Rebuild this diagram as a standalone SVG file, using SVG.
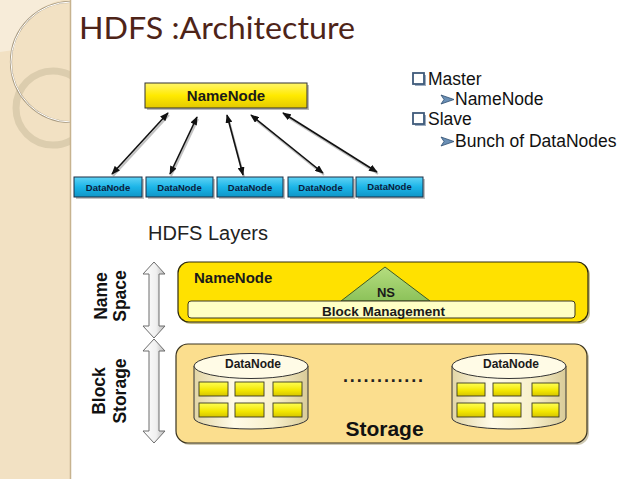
<svg xmlns="http://www.w3.org/2000/svg" width="638" height="479" viewBox="0 0 638 479">
<defs>
<style>
.sans{font-family:"Liberation Sans",Arial,sans-serif}
.b{font-weight:bold}
.dnt{font-family:"Liberation Sans",Arial,sans-serif;font-weight:bold;font-size:9.5px;fill:#0b1d3d;text-anchor:middle}
.dnb{fill:url(#gC);stroke:#1d2f45;stroke-width:1}
.conn{stroke:#111;stroke-width:1.6;fill:none;marker-start:url(#ah);marker-end:url(#ah)}
.shad{stroke:#9a9a9a;stroke-width:2;fill:none;opacity:.6}
.blk{fill:url(#gB);stroke:#3a3a20;stroke-width:0.9}
.list{font-family:"Liberation Sans",Arial,sans-serif;font-size:17.5px;fill:#111}
.va{fill:url(#gV);stroke:#6d6d6d;stroke-width:1}
.lbl{font-family:"Liberation Sans",Arial,sans-serif;font-weight:bold;font-size:17.5px;fill:#111}
</style>
<linearGradient id="gY" x1="0" y1="0" x2="0" y2="1"><stop offset="0" stop-color="#fff56a"/><stop offset="0.5" stop-color="#ffea00"/><stop offset="1" stop-color="#e3c900"/></linearGradient>
<linearGradient id="gC" x1="0" y1="0" x2="0" y2="1"><stop offset="0" stop-color="#5fd3f5"/><stop offset="0.5" stop-color="#1cb5e8"/><stop offset="1" stop-color="#0f95c6"/></linearGradient>
<linearGradient id="gB" x1="0" y1="0" x2="0" y2="1"><stop offset="0" stop-color="#ffff55"/><stop offset="0.6" stop-color="#f2e600"/><stop offset="1" stop-color="#d6c400"/></linearGradient>
<linearGradient id="gCyl" x1="0" y1="0" x2="1" y2="0"><stop offset="0" stop-color="#e3d6a6"/><stop offset="0.35" stop-color="#fffbe8"/><stop offset="0.7" stop-color="#f8f0cc"/><stop offset="1" stop-color="#d9cb98"/></linearGradient>
<linearGradient id="gV" x1="0" y1="0" x2="1" y2="0"><stop offset="0" stop-color="#ffffff"/><stop offset="0.6" stop-color="#f0f0f0"/><stop offset="1" stop-color="#b8b8b8"/></linearGradient>
<linearGradient id="gNS" x1="0" y1="0" x2="0" y2="1"><stop offset="0" stop-color="#b5dd7f"/><stop offset="1" stop-color="#8cc25a"/></linearGradient>
<marker id="ah" viewBox="0 0 10 8" refX="9" refY="4" markerWidth="9" markerHeight="7" markerUnits="userSpaceOnUse" orient="auto-start-reverse"><path d="M0,0 L10,4 L0,8 Z" fill="#111"/></marker>
<clipPath id="sb"><rect x="0" y="0" width="70" height="479"/></clipPath>
</defs>

<rect x="0" y="0" width="638" height="479" fill="#ffffff"/>

<!-- sidebar decoration -->
<g id="sidebar">
<rect x="0" y="0" width="70" height="479" fill="#f2e1c3"/>
<g clip-path="url(#sb)">
<path d="M0,0 H62 A60,60 0 0 0 14,50 L0,52 Z" fill="#f7ecd9"/>
<circle cx="53" cy="108" r="37" fill="none" stroke="#dccdae" stroke-width="7"/>
<circle cx="71" cy="62" r="60" fill="none" stroke="#a89a80" stroke-width="2.2"/>
<circle cx="71" cy="62" r="60" fill="none" stroke="#ffffff" stroke-width="1"/>
</g>
<line x1="70.5" y1="0" x2="70.5" y2="479" stroke="#c7b38f" stroke-width="1.5"/>
</g>

<text x="79" y="39" font-family="Lato,'Open Sans',sans-serif" font-size="31" fill="#4e2418" textLength="276" lengthAdjust="spacingAndGlyphs">HDFS :Architecture</text>

<!-- connectors -->
<g id="connectors">
<line class="shad" x1="169" y1="115" x2="113" y2="176"/>
<line class="shad" x1="198" y1="119" x2="171" y2="176"/>
<line class="shad" x1="228" y1="117" x2="244" y2="177"/>
<line class="shad" x1="252" y1="117" x2="324" y2="175"/>
<line class="shad" x1="284" y1="115" x2="378" y2="174"/>
<line class="conn" x1="168" y1="113" x2="112" y2="174"/>
<line class="conn" x1="197" y1="117" x2="170" y2="174"/>
<line class="conn" x1="227" y1="115" x2="243" y2="175"/>
<line class="conn" x1="251" y1="115" x2="323" y2="173"/>
<line class="conn" x1="283" y1="113" x2="377" y2="172"/>
</g>

<g id="namenode-top">
<rect x="147" y="85" width="162" height="25" fill="#777" opacity="0.5"/>
<rect x="145" y="83" width="162" height="25" fill="url(#gY)" stroke="#333" stroke-width="1"/>
<text x="226" y="101" class="sans b" font-size="15" fill="#1a1a1a" text-anchor="middle">NameNode</text>
</g>

<g id="datanode-1"><rect x="76" y="179" width="68" height="20" fill="#666" opacity="0.4"/><rect class="dnb" x="74" y="177" width="68" height="20"/><text class="dnt" x="108" y="191">DataNode</text></g>
<g id="datanode-2"><rect x="148" y="179" width="67" height="20" fill="#666" opacity="0.4"/><rect class="dnb" x="146" y="177" width="67" height="20"/><text class="dnt" x="179.5" y="191">DataNode</text></g>
<g id="datanode-3"><rect x="219" y="179" width="66" height="20" fill="#666" opacity="0.4"/><rect class="dnb" x="217" y="177" width="66" height="20"/><text class="dnt" x="250" y="191">DataNode</text></g>
<g id="datanode-4"><rect x="290" y="179" width="65" height="20" fill="#666" opacity="0.4"/><rect class="dnb" x="288" y="177" width="65" height="20"/><text class="dnt" x="320.5" y="191">DataNode</text></g>
<g id="datanode-5"><rect x="358" y="179" width="67" height="20" fill="#666" opacity="0.4"/><rect class="dnb" x="356" y="177" width="67" height="20"/><text class="dnt" x="389.5" y="190">DataNode</text></g>

<!-- bullet list -->
<g id="legend">
<rect x="415" y="75" width="11" height="11" fill="#5c7796" opacity="0.6"/>
<rect x="413" y="73" width="11" height="11" fill="#ffffff" stroke="#3f5a7a" stroke-width="1.8"/>
<text class="list" x="428" y="85">Master</text>
<path d="M441,95 L454,99.5 L441,104 L444,99.5 Z" fill="#6a8fb5" stroke="#2f4e70" stroke-width="0.8"/>
<text class="list" x="455" y="105">NameNode</text>
<rect x="415" y="115" width="11" height="11" fill="#5c7796" opacity="0.6"/>
<rect x="413" y="113" width="11" height="11" fill="#ffffff" stroke="#3f5a7a" stroke-width="1.8"/>
<text class="list" x="428" y="125">Slave</text>
<path d="M441,137 L454,141.5 L441,146 L444,141.5 Z" fill="#6a8fb5" stroke="#2f4e70" stroke-width="0.8"/>
<text class="list" x="455" y="147">Bunch of DataNodes</text>
</g>

<text x="148" y="240" class="sans" font-size="20" fill="#222">HDFS Layers</text>

<!-- side labels and arrows -->
<g id="label-namespace">
<text class="lbl" transform="translate(107,296) rotate(-90)" text-anchor="middle">Name</text>
<text class="lbl" transform="translate(126,296) rotate(-90)" text-anchor="middle">Space</text>
</g>
<g id="label-blockstorage">
<text class="lbl" transform="translate(105,391) rotate(-90)" text-anchor="middle">Block</text>
<text class="lbl" transform="translate(126,391) rotate(-90)" text-anchor="middle">Storage</text>
</g>
<g id="arrow-namespace"><path class="va" d="M154,262 L165,274 L159,274 L159,326 L165,326 L154,338 L143,326 L149,326 L149,274 L143,274 Z"/></g>
<g id="arrow-blockstorage"><path class="va" d="M154,339 L165,351 L159,351 L159,431 L165,431 L154,443 L143,431 L149,431 L149,351 L143,351 Z"/></g>

<!-- namespace layer -->
<g id="namespace-layer">
<rect x="180" y="264" width="410" height="60" rx="11" fill="#8a7a00" opacity="0.45"/>
<rect x="178" y="262" width="410" height="60" rx="11" fill="#ffe100" stroke="#2e2a10" stroke-width="1.2"/>
<text x="194" y="283" class="sans b" font-size="15" fill="#1a1a1a">NameNode</text>
<polygon points="385,267 430,301 341,301" fill="url(#gNS)" stroke="#3d5a25" stroke-width="1"/>
<text x="386" y="297" class="sans b" font-size="13" fill="#1a1a1a" text-anchor="middle">NS</text>
<rect x="188" y="301" width="387" height="17" rx="3" fill="#ffffc4" stroke="#3a3620" stroke-width="1"/>
<text x="383.5" y="315.5" class="sans b" font-size="13.5" fill="#1a1a1a" text-anchor="middle">Block Management</text>
</g>

<!-- block storage layer -->
<g id="storage-layer">
<rect x="178" y="346" width="411" height="99" rx="12" fill="#8a7a40" opacity="0.4"/>
<rect x="176" y="344" width="411" height="99" rx="12" fill="#fbde8e" stroke="#3a3420" stroke-width="1.2"/>
<text x="343" y="382" class="sans b" font-size="18" fill="#222" textLength="80" lengthAdjust="spacing">............</text>
<text x="384.5" y="436" class="sans b" font-size="21" fill="#111" text-anchor="middle">Storage</text>
</g>

<g id="datanode-cyl-1">
<path d="M194,366 L194,418 A57,11 0 0 0 308,418 L308,366 Z" fill="url(#gCyl)" stroke="#333" stroke-width="1"/>
<ellipse cx="251" cy="366" rx="57" ry="12.5" fill="#fffbe6" stroke="#333" stroke-width="1"/>
<text x="253" y="368" class="sans b" font-size="12" fill="#1a1a1a" text-anchor="middle">DataNode</text>
<rect class="blk" x="199" y="382" width="29" height="14"/>
<rect class="blk" x="235" y="382" width="29" height="14"/>
<rect class="blk" x="273" y="382" width="29" height="14"/>
<rect class="blk" x="199" y="403" width="29" height="14"/>
<rect class="blk" x="235" y="403" width="29" height="14"/>
<rect class="blk" x="273" y="403" width="29" height="14"/>
</g>

<g id="datanode-cyl-2">
<path d="M452,366 L452,418 A57,11 0 0 0 566,418 L566,366 Z" fill="url(#gCyl)" stroke="#333" stroke-width="1"/>
<ellipse cx="509" cy="366" rx="57" ry="12.5" fill="#fffbe6" stroke="#333" stroke-width="1"/>
<text x="511" y="368" class="sans b" font-size="12" fill="#1a1a1a" text-anchor="middle">DataNode</text>
<rect class="blk" x="457" y="383" width="28" height="13"/>
<rect class="blk" x="493" y="383" width="28" height="13"/>
<rect class="blk" x="532" y="383" width="27" height="13"/>
<rect class="blk" x="457" y="403" width="28" height="14"/>
<rect class="blk" x="493" y="403" width="28" height="14"/>
<rect class="blk" x="532" y="403" width="27" height="14"/>
</g>
</svg>
